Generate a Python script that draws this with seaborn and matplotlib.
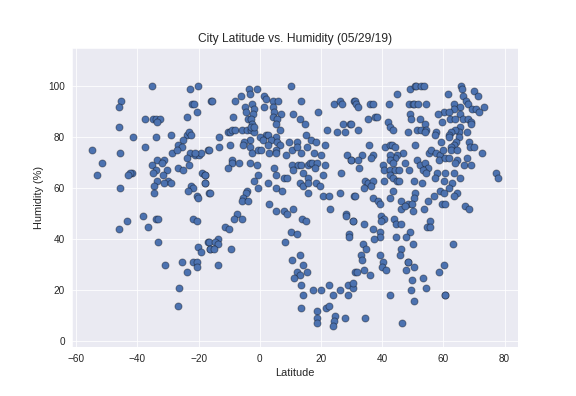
import pandas as pd
import matplotlib
matplotlib.use("Agg")
import matplotlib.pyplot as plt
import seaborn as sns

# city latitudes and humidity, by latitude band
lat_south = [-35.1,-22.7,-20.1,-45.3,-45.9,-22.1,-21.4,-20.4,-23.7,-37.7,-34.8,-34.1,-32.8,-33.5,-46.2,-28.9,-23.7,-23,-22.4,
             -41.3,-33.8,-25,-26.6,-25.3,-37.7,-54.7,-45.6,-28.6,-27,-22.7,-23.7,-21.1,-19.8,-19.4,-21.1,-16.8,-33.5,-31.2,
             -31.9,-51.5,-35.4,-23,-26.6,-25,-33.8,-34.8,-30.2,-53.1,-41.7,-42.3,-43,-31.5,-18.8,-17.8,-33.5,-29.9,-31.2,-29.2,
             -17.8,-34.5,-45.6,-22.4,-21.7,-23.4,-34.5,-20.4,-20.1,-16.5,-16,
             -38.1,-43.3,-46.2,-36.4,-33.8,-33.2,-21.7,-20.7,-33.2,-16.8,-20.1,-16.2,-19.1,-30.9,-25.6,-21.7,-20.7,-20.7,-23.7,-26.3,-26.6]
hum_south = [100,99,100,94,92,93,93,90,88,87,87,87,87,86,84,81,81,82,81,
             80,80,79,77,76,76,75,74,74,75,74,72,73,73,74,74,75,71,71,
             70,70,69,69,68,67,67,66,67,65,66,66,65,65,66,65,63,63,62,62,
             62,61,60,61,60,59,58,57,56,58,94,
             49,47,44,45,48,48,48,47,39,39,37,36,35,30,31,31,31,29,27,21,14]

lat_mid = [-3.5,-0.8,10.3,-3.1,-6.1,1.4,2.1,-15.5,-8,4.4,6,13.5,24.3,26.3,27,30.9,-2.5,-5,1.4,4.4,-1.8,-4.4,4.7,19.1,-2.1,7,10.9,
           -8.7,-3.8,-2.8,4.4,5.7,13.2,-2.5,5.4,14.9,27.3,29.6,6.7,22,25.3,27.9,-10.3,-9.7,-9,-8,-6,-4.1,-2.8,-1.8,-2.8,-1.8,
           15.2,2.1,2.8,-13.2,0.2,5.4,16.8,18.4,1.1,3.7,5.7,-3.1,-5.1,9.6,12.2,-9.7,-5.4,2.8,6.7,15.5,21.4,-13.2,-16.5,-3.1,
           10.6,12.2,13.5,-2.5,-0.5,0.5,3.1,5.4,5.4,17.8,8.6,20.1,28.6,29.9,-9,-9,-6.7,-3.1,-0.8,-10.3,
           10.6,12.6,13.5,15.8,16.5,17.1,18.8,18.1,21.4,4.7,10.9,14.2,26.6,20.7,-0.5,5.4,-17.8,-1.8,8,9,15.8,2.8,-17.8,
           13.2,14.2,15.8,18.4,19.8,-0.5,5.4,7.3,-16.2,-4.1,-4.4,-5.4,-6,-3.8,15.8,20.7,22.7,26.3,30.9,3.1,
           5.4,8,9,10.9,-7.4,-8.4,-6,13.9,15.2,23,28.2,28.2,30.5,-11.3,-10,10.3,12.2,29.2,29.2,8.3,-16.5,-13.6,-14.6,-13.6,
           -16.2,-14.9,-9.3,13.2,10.6,-13.6,14.2,12.2,15.5,13.2,11.3,13.5,22.7,17.5,20.1,14.2,24,26.3,28.9,28.9,30.5,
           13.5,21.7,22.7,18.8,18.8,18.8,24.7,24.3,24,27.9,31.2,30.5]
hum_mid = [99,99,100,97,96,96,95,94,94,94,94,94,93,94,93,94,93,92,92,92,91,90,90,90,89,89,89,
           88,87,87,88,87,87,85,85,85,85,85,83,83,82,82,82,82,83,83,83,83,83,82,84,84,
           81,81,81,80,80,80,79,78,79,79,78,79,78,78,78,77,77,77,77,76,77,76,75,76,
           75,76,74,74,75,75,74,75,74,74,73,73,73,71,71,70,70,70,69,68,
           69,69,69,69,70,70,70,68,69,68,67,66,66,65,65,65,65,63,64,64,64,62,62,
           62,61,62,62,61,60,60,59,58,59,58,56,55,55,58,57,57,58,57,54,
           51,51,50,52,50,48,48,48,47,52,50,49,47,45,44,43,42,42,41,39,39,40,39,38,
           36,36,36,34,32,30,30,27,27,26,25,22,22,20,20,18,18,20,22,18,21,
           13,13,14,12,9,7,10,8,6,9,27,23]

lat_north = [44.9,49.2,50.8,51.1,52.8,53.7,65.8,66.2,61.6,70.1,71.4,66.5,67.5,31.2,31.5,32.2,36.1,37.1,42.3,48.8,50.1,50.5,51.8,54.4,
             63.5,65.5,68.1,73.3,63.5,60.3,69.4,70.7,71.7,58.3,61.9,65.5,49.2,35.4,37.7,38.4,49.5,52.4,62.2,63.9,66.5,68.1,
             59.6,69.1,69.1,42,29.9,54.1,42.6,43.6,32.2,51.4,52.8,54.4,54.1,48.5,57.7,57.3,65.5,65.2,63.9,67.8,62.6,61.9,61.9,65.2,
             59.3,64.2,63.5,68.4,68.8,70.1,35.8,41,42.6,43.3,44.2,50.8,62.6,62.6,64.5,55.4,56,57.7,59,59.9,72.7,46.9,44.9,44.2,42.6,
             33.5,37.1,36.4,29.9,32.2,58.6,60.6,61.9,67.8,51.4,42.6,43.6,47.5,52.4,54.1,64.5,63.9,66.8,69.1,40.3,32.5,
             40.7,42.6,44.3,45.6,48.8,55,53.4,54.4,58,60.6,63.5,77.3,77.9,57.3,60.3,65.5,42.6,43.6,44.9,45.6,40.7,50.5,53.1,
             34.5,35.4,37,36.4,34.1,62.9,61.9,58.96,60.3,64.5,63.5,43.6,50.8,50.5,57,55,31.2,37.1,42.6,38.7,39.4,46.2,48.5,49.8,
             59.6,60.6,67.1,68.4,46.2,47.5,50.1,53.7,
             30.5,34.1,39.7,40.7,39.7,43.9,44.6,46.2,55.7,54.7,55.7,37.1,39.4,49.2,39.4,37.4,44.6,47.8,33.8,34.8,50.1,63.2,46.2,45.9,
             33.1,33.5,39.4,40.3,40,41.3,48.5,48.5,50.5,47.8,60.3,58.6,34.1,31.8,36.1,49.8,53.4,49.5,54.4,42.6,60.6,60.6,50.5,34.5,46.5]
hum_north = [97,99,100,100,100,100,100,99,97,98,96,96,94,94,93,92,93,93,93,93,93,93,93,93,
             93,92,93,92,91,90,91,91,90,89,90,89,89,87,88,88,87,87,87,87,87,87,
             86,86,85,86,85,85,84,83,83,83,83,83,82,82,82,81,84,82,83,82,82,81,80,80,
             78,78,77,78,76,76,77,76,77,77,76,77,76,75,75,74,75,74,73,75,74,74,73,72,73,
             73,73,72,71,71,71,72,72,72,71,71,70,70,69,70,71,70,69,69,69,68,
             67,67,67,67,67,68,67,66,66,66,66,66,64,64,63,64,65,64,63,63,63,63,62,
             63,62,63,61,60,62,60,59,58,58,57,59,58,56,57,55,57,56,56,55,54,55,54,54,
             54,54,53,52,52,53,51,52,
             47,46,49,48,47,48,46,46,47,45,45,44,43,43,41,40,41,41,38,36,38,38,36,34,
             34,32,34,31,29,28,31,31,29,28,30,27,28,27,26,24,25,20,21,18,18,18,16,9,7]

df = pd.DataFrame({"Latitude": lat_south + lat_mid + lat_north,
                   "Humidity": hum_south + hum_mid + hum_north})

sns.set_style("darkgrid")
plt.rcParams["font.family"] = ["Liberation Sans", "DejaVu Sans"]

fig, ax = plt.subplots(figsize=(8, 5.5), dpi=72)
fig.subplots_adjust(left=0.125, right=0.9, bottom=0.1245, top=0.879)
sns.scatterplot(data=df, x="Latitude", y="Humidity", s=50, color="#4c72b0",
                edgecolor=(0, 0, 0, 0.35), linewidth=1, ax=ax)

ax.set_xlim(-61.4, 84.5)
ax.set_ylim(-2.1, 115)
ax.set_xticks([-60, -40, -20, 0, 20, 40, 60, 80])
ax.set_yticks([0, 20, 40, 60, 80, 100])
ax.tick_params(labelsize=10)
ax.set_title("City Latitude vs. Humidity (05/29/19)", fontsize=12)
ax.set_xlabel("Latitude", fontsize=11)
ax.set_ylabel("Humidity (%)", fontsize=11)

fig.savefig("out.png")
